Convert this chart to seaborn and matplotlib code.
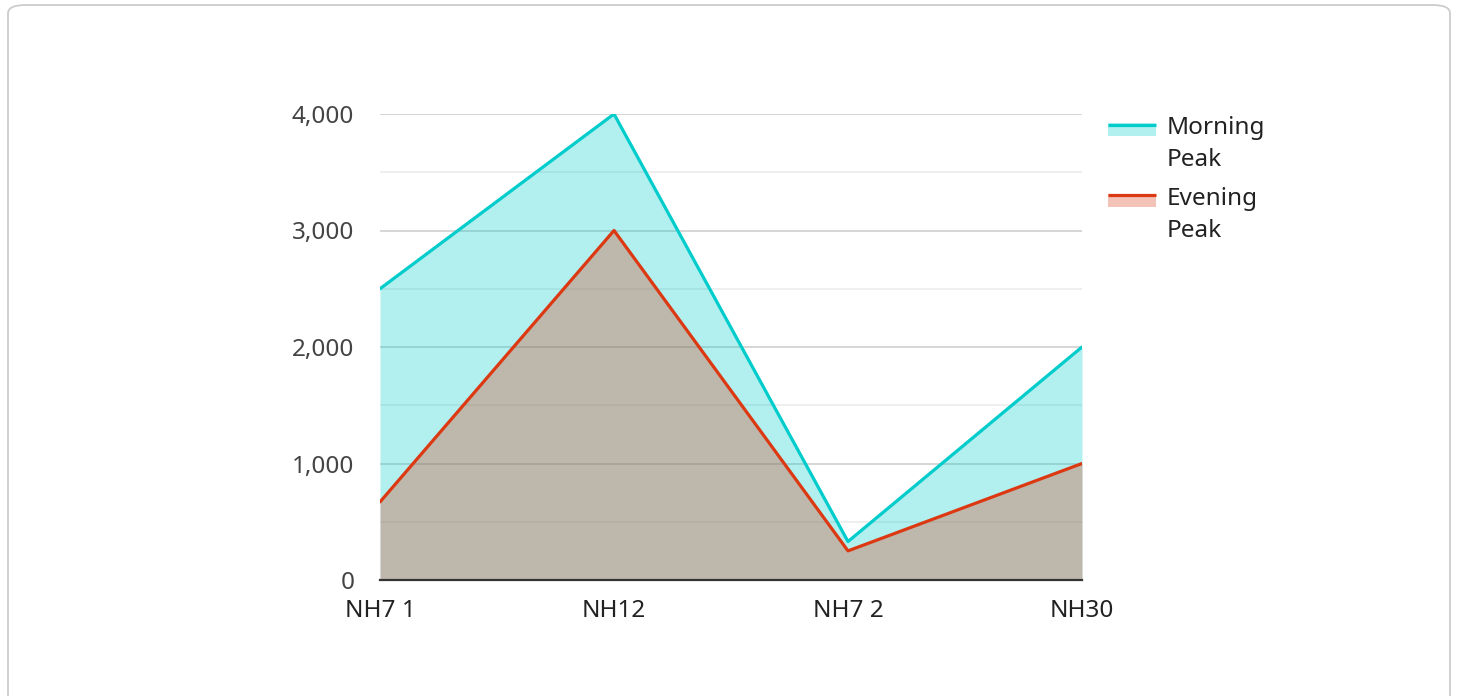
import matplotlib
matplotlib.use("Agg")
import matplotlib.pyplot as plt
import seaborn as sns
import pandas as pd
from matplotlib.patches import FancyBboxPatch, Rectangle
from matplotlib.lines import Line2D
from matplotlib.legend_handler import HandlerBase

categories = ["NH7 1", "NH12", "NH7 2", "NH30"]
morning_peak = [2500, 4000, 330, 2000]
evening_peak = [670, 3000, 250, 1000]
series_names = ["Morning Peak", "Evening Peak"]
y_ticks = [0, 1000, 2000, 3000, 4000]

colors = ["#00cccc", "#dc3912"]

sns.set_theme(style="white")
plt.rcParams["font.family"] = ["Noto Sans", "DejaVu Sans"]

df = pd.DataFrame({
    "x": list(range(len(categories))) * 2,
    "value": morning_peak + evening_peak,
    "series": [series_names[0]] * len(categories) + [series_names[1]] * len(categories),
})

W, H = 1458, 696
fig = plt.figure(figsize=(W / 100, H / 100), dpi=100)
fig.patch.set_facecolor("white")

# outer rounded border
border = FancyBboxPatch((8 / W, -20 / H), (1450 - 8) / W, (691 + 20) / H,
                        boxstyle="round,pad=0,rounding_size=0.012",
                        transform=fig.transFigure, facecolor="none",
                        edgecolor="#cccccc", linewidth=1.3, zorder=-1)
fig.patches.append(border)

ax = fig.add_axes([380 / W, (H - 580) / H, 702 / W, 466 / H])
ax.set_facecolor("none")

xs = list(range(len(categories)))
for vals, c in zip([morning_peak, evening_peak], colors):
    ax.fill_between(xs, 0, vals, color=c, alpha=0.3, linewidth=0, zorder=2)

sns.lineplot(data=df, x="x", y="value", hue="series", palette=colors,
             linewidth=2.3, ax=ax, legend=False, zorder=3)

FS = 17.5
ax.set_xlim(0, len(categories) - 1)
ax.set_ylim(0, 4000)
ax.set_xticks(xs)
ax.set_xticklabels(categories)
ax.set_yticks(y_ticks)
ax.set_yticklabels([f"{v:,}" for v in y_ticks])
ax.set_yticks([500, 1500, 2500, 3500], minor=True)
ax.grid(axis="y", which="major", color="#cccccc", linewidth=1.1, zorder=1)
ax.grid(axis="y", which="minor", color="#ebebeb", linewidth=1.1, zorder=1)
ax.grid(axis="x", visible=False)
ax.set_axisbelow(True)
for s in ["top", "right", "left"]:
    ax.spines[s].set_visible(False)
ax.spines["bottom"].set_color("#333333")
ax.spines["bottom"].set_linewidth(1.6)
ax.spines["bottom"].set_zorder(4)
ax.tick_params(axis="y", which="both", length=0, pad=18.5, labelsize=FS, labelcolor="#444444")
ax.tick_params(axis="x", length=0, pad=13.5, labelsize=FS, labelcolor="#222222")
ax.set_xlabel("")
ax.set_ylabel("")


class AreaHandler(HandlerBase):
    def legend_artist(self, legend, orig_handle, fontsize, handlebox):
        x0, y0 = handlebox.xdescent, handlebox.ydescent
        w = handlebox.width
        c = orig_handle
        off = 11.8
        rect = Rectangle((-x0, -y0 + off), w, 9.4, facecolor=c, alpha=0.3,
                         edgecolor="none", transform=handlebox.get_transform())
        line = Line2D([-x0, -x0 + w], [-y0 + off + 8.6, -y0 + off + 8.6], color=c,
                      linewidth=2.3, solid_capstyle="butt",
                      transform=handlebox.get_transform())
        handlebox.add_artist(rect)
        handlebox.add_artist(line)
        return rect


labels = [n.replace(" ", "\n") for n in series_names]
leg = fig.legend(colors, labels, handler_map={str: AreaHandler()},
                 loc="upper left", bbox_to_anchor=(1086 / W, 1 - 94 / H),
                 frameon=False, fontsize=FS, handlelength=2.0, handletextpad=0.4,
                 labelspacing=0.62, labelcolor="#222222")
for t in leg.get_texts():
    t.set_linespacing(1.44)

fig.savefig("out.png", dpi=100, facecolor="white")
